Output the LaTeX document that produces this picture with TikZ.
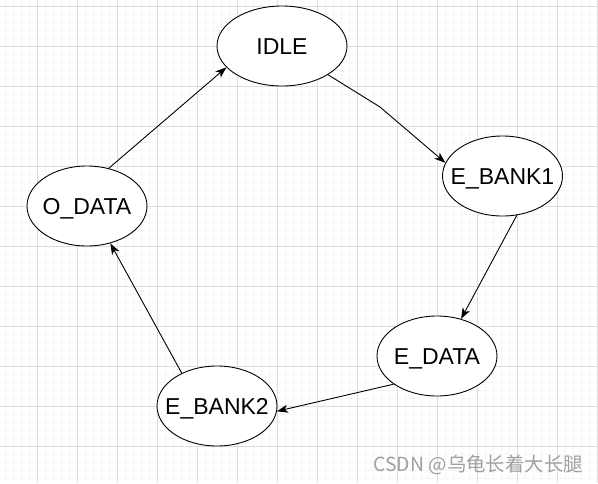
\documentclass[tikz,border=0pt]{standalone}
\usepackage{fontspec}
\setmainfont{Liberation Sans}
\newfontfamily\cjk{Noto Sans CJK SC}
\usetikzlibrary{shapes.geometric,arrows.meta}
\definecolor{gridmajor}{HTML}{DEDEDE}
\definecolor{gridminor}{HTML}{F5F5F5}
\definecolor{wmgray}{HTML}{A0A0A0}
\newcommand{\stxt}[1]{\makebox[0pt][c]{#1}}
\tikzset{
  state/.style={ellipse,draw=black,line width=0.9pt,fill=white,minimum width=120pt,minimum height=80pt,inner sep=0pt,text height=16.5pt,text depth=0pt,font=\fontsize{23}{27}\selectfont},
  conn/.style={line width=0.9pt,-{Stealth[length=11pt,width=8pt,inset=3pt]}},
}
\begin{document}
\begin{tikzpicture}[x=1pt,y=-1pt]
\useasboundingbox (0,0) rectangle (598,483);
\fill[white] (0,0) rectangle (598,483);
% minor grid
\foreach \x in {5,13,...,597} \draw[gridminor,line width=0.7pt] (\x,0) -- (\x,483);
\foreach \y in {6.5,14.5,...,483} \draw[gridminor,line width=0.7pt] (0,\y) -- (598,\y);
% major grid
\foreach \x in {37,77,...,597} \draw[gridmajor,line width=0.9pt] (\x,0) -- (\x,483);
\foreach \y in {6.5,46.5,...,483} \draw[gridmajor,line width=0.9pt] (0,\y) -- (598,\y);

\node[state,minimum width=130pt] (idle) at (282,46) {\stxt{IDLE}};
\node[state] (eb1) at (502.5,176) {\stxt{E\_BANK1}};
\node[state] (od) at (87,206) {\stxt{O\_DATA}};
\node[state] (ed) at (437,356) {\stxt{E\_DATA}};
\node[state] (eb2) at (217,406) {\stxt{E\_BANK2}};
\coordinate (bend) at (380,107);

\draw[conn] (od.60) -- (idle.201);
\draw[conn] (idle.328) -- (bend) -- (eb1.167);
\draw[conn] (eb1.290) -- (ed.57);
\draw[conn] (ed.213) -- (eb2.355);
\draw[conn] (eb2.137) -- (od.302);

\node[font=\cjk\fontsize{19.4}{23}\selectfont,text=wmgray,anchor=east,inner sep=0pt] (wm) at (583,465) {CSDN @乌龟长着大长腿};
\end{tikzpicture}
\end{document}
